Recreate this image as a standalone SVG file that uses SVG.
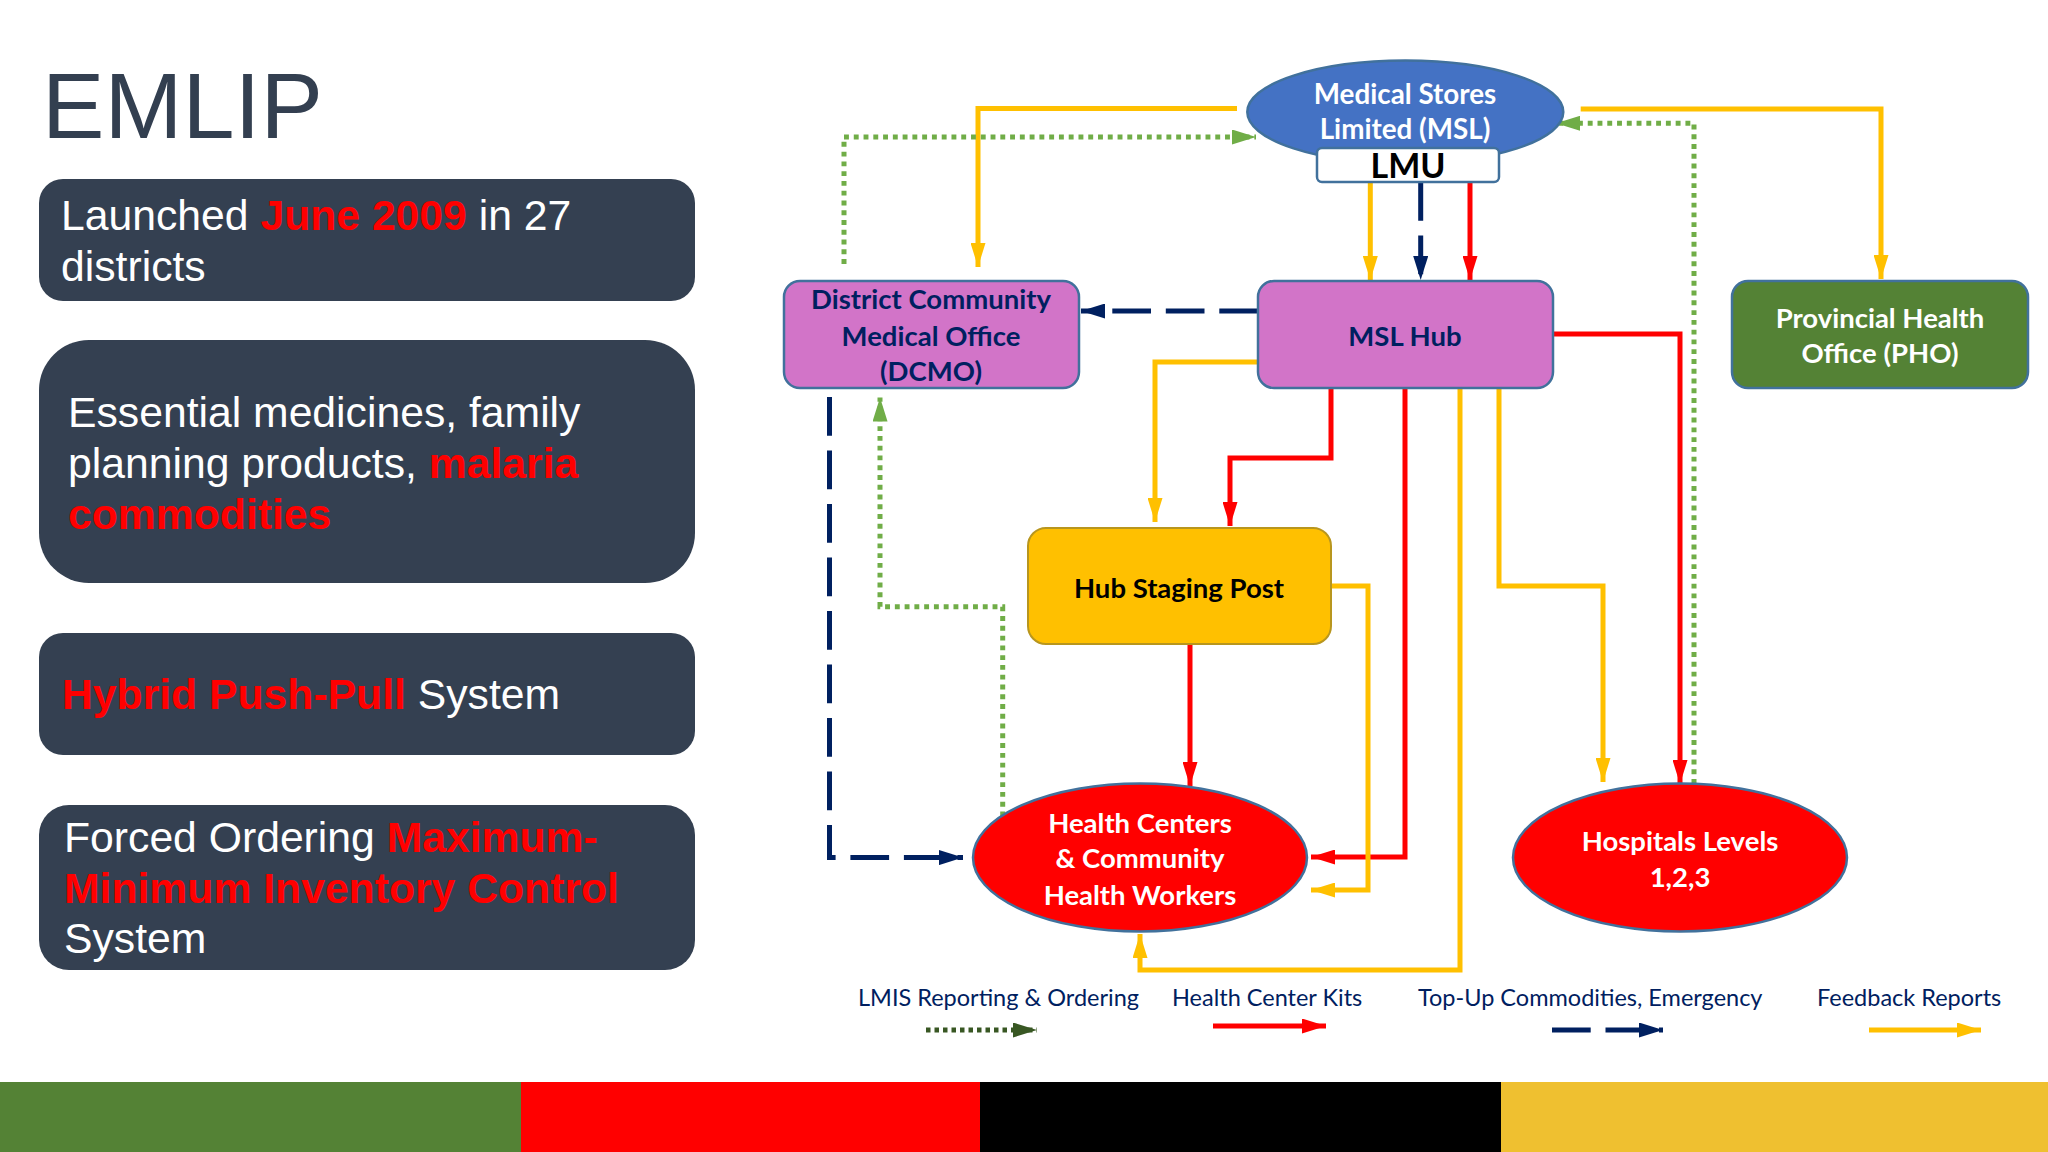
<svg xmlns="http://www.w3.org/2000/svg" width="2048" height="1152" viewBox="0 0 2048 1152">
<style>
.panel{fill:#344051}
.pt{font-family:"Liberation Sans",Arial,sans-serif;font-size:42.7px;fill:#fff}
.hl{fill:#f00;font-weight:bold}
.n{font-family:Lato,"Open Sans",sans-serif;font-weight:bold;font-size:27.5px;text-anchor:middle}
.w{fill:#fff}.b{fill:#002060}.k{fill:#000}
.leg{font-family:Lato,"Open Sans",sans-serif;font-size:23.5px;fill:#002060}
.box{stroke:#41719c;stroke-width:2.5}
.c{fill:none;stroke-width:5}
.y{stroke:#ffc000;marker-end:url(#ay)}
.r{stroke:#f00;marker-end:url(#ar)}
.d{stroke:#002060;stroke-dasharray:38.7 14.8;marker-end:url(#ad)}
.g{stroke:#70ad47;stroke-dasharray:4.9 4.87;marker-end:url(#ag)}
</style>
<defs>
<marker id="ay" viewBox="0 0 24 15" refX="24" refY="7.5" markerUnits="userSpaceOnUse" markerWidth="24" markerHeight="15" orient="auto"><path d="M0 0L24 7.5L0 15Z" fill="#ffc000"/></marker>
<marker id="ar" viewBox="0 0 24 15" refX="24" refY="7.5" markerUnits="userSpaceOnUse" markerWidth="24" markerHeight="15" orient="auto"><path d="M0 0L24 7.5L0 15Z" fill="#f00"/></marker>
<marker id="ad" viewBox="0 0 24 15" refX="24" refY="7.5" markerUnits="userSpaceOnUse" markerWidth="24" markerHeight="15" orient="auto"><path d="M0 0L24 7.5L0 15Z" fill="#002060"/></marker>
<marker id="ag" viewBox="0 0 24 15" refX="24" refY="7.5" markerUnits="userSpaceOnUse" markerWidth="24" markerHeight="15" orient="auto"><path d="M0 0L24 7.5L0 15Z" fill="#70ad47"/></marker>
<marker id="adg" viewBox="0 0 24 15" refX="24" refY="7.5" markerUnits="userSpaceOnUse" markerWidth="24" markerHeight="15" orient="auto"><path d="M0 0L24 7.5L0 15Z" fill="#385723"/></marker>
</defs>
<rect width="2048" height="1152" fill="#fff"/>
<text x="42" y="138" font-family="Liberation Sans,Arial,sans-serif" font-size="93.6" fill="#333f50">EMLIP</text>
<g id="panel1"><rect class="panel" x="39" y="179" width="656" height="122" rx="24"/>
<text class="pt" x="61" y="230">Launched <tspan class="hl">June 2009</tspan> in 27</text>
<text class="pt" x="61" y="281">districts</text></g>
<g id="panel2"><rect class="panel" x="39" y="340" width="656" height="243" rx="50"/>
<text class="pt" x="68" y="427">Essential medicines, family</text>
<text class="pt" x="68" y="478">planning products, <tspan class="hl">malaria</tspan></text>
<text class="pt hl" x="68" y="529">commodities</text></g>
<g id="panel3"><rect class="panel" x="39" y="633" width="656" height="122" rx="24"/>
<text class="pt" x="62" y="709"><tspan class="hl">Hybrid Push-Pull</tspan> System</text></g>
<g id="panel4"><rect class="panel" x="39" y="805" width="656" height="165" rx="30"/>
<text class="pt" x="64" y="852">Forced Ordering <tspan class="hl">Maximum-</tspan></text>
<text class="pt hl" x="64" y="903">Minimum Inventory Control</text>
<text class="pt" x="64" y="953">System</text></g>
<g id="connectors">
<path class="c y" d="M1237 108.5H978V267"/>
<path class="c g" d="M844 264V137H1256"/>
<path class="c y" d="M1370.3 182V280"/>
<path class="c d" d="M1420.7 182V280"/>
<path class="c r" d="M1470 182V280"/>
<path class="c y" d="M1580.7 109H1881V279"/>
<path class="c g" d="M1694 784V123.3H1556"/>
<path class="c d" d="M1258 311H1081"/>
<path class="c y" d="M1258 362H1155V522"/>
<path class="c r" d="M1331 388V458H1230V526"/>
<path class="c r" d="M1405 388V857H1311"/>
<path class="c y" d="M1460 388V970H1140V934"/>
<path class="c y" d="M1499 388V586H1603V782"/>
<path class="c r" d="M1553 334H1680V784"/>
<path class="c y" d="M1331 586H1368V890H1311"/>
<path class="c r" d="M1190 644V786"/>
<path class="c d" d="M829.5 397V857.6H963"/>
<path class="c g" d="M1002.7 816.4V606.7H880V397.5"/>
<path class="c" stroke="#385723" stroke-dasharray="4.5 4" marker-end="url(#adg)" d="M926 1030H1037"/>
<path class="c r" d="M1213 1026H1326"/>
<path class="c d" d="M1552 1030H1663"/>
<path class="c y" d="M1869 1030H1981"/>
</g>
<g id="msl"><ellipse class="box" cx="1405.3" cy="112" rx="158" ry="51.5" fill="#4472c4"/>
<text class="n w" x="1405" y="103.5" style="font-size:27.8px">Medical Stores</text><text class="n w" x="1405" y="138.5" style="font-size:27.8px">Limited (MSL)</text></g>
<g id="lmu"><rect class="box" x="1317" y="148" width="182" height="34" rx="5" fill="#fff"/>
<text class="n k" x="1408" y="177.5" style="font-size:34px">LMU</text></g>
<g id="dcmo"><rect class="box" x="784" y="281" width="295" height="107" rx="16" fill="#d274c8"/>
<text class="n b" x="931" y="308.5">District Community</text><text class="n b" x="931" y="345.5">Medical Office</text><text class="n b" x="931" y="380.5">(DCMO)</text></g>
<g id="hub"><rect class="box" x="1258" y="281" width="295" height="107" rx="16" fill="#d274c8"/>
<text class="n b" x="1405" y="345.5">MSL Hub</text></g>
<g id="pho"><rect class="box" x="1732" y="281" width="296" height="107" rx="16" fill="#548235"/>
<text class="n w" x="1880" y="327.5">Provincial Health</text><text class="n w" x="1880" y="362.5">Office (PHO)</text></g>
<g id="staging"><rect x="1028" y="528" width="303" height="116" rx="18" fill="#ffc000" stroke="#b8961e" stroke-width="2"/>
<text class="n k" x="1179" y="597.5">Hub Staging Post</text></g>
<g id="hc"><ellipse class="box" cx="1140" cy="857.5" rx="167" ry="74" fill="#f00"/>
<text class="n w" x="1140" y="832.5">Health Centers</text><text class="n w" x="1140" y="867.5">&amp; Community</text><text class="n w" x="1140" y="904.5">Health Workers</text></g>
<g id="hosp"><ellipse class="box" cx="1680" cy="857.5" rx="167" ry="74" fill="#f00"/>
<text class="n w" x="1680" y="850.5">Hospitals Levels</text><text class="n w" x="1680" y="886.5">1,2,3</text></g>
<g id="legend">
<text class="leg" x="858" y="1006">LMIS Reporting &amp; Ordering</text>
<text class="leg" x="1172" y="1006">Health Center Kits</text>
<text class="leg" x="1418" y="1006">Top-Up Commodities, Emergency</text>
<text class="leg" x="1817" y="1006">Feedback Reports</text>
</g>
<g id="bar">
<rect x="0" y="1082" width="521" height="70" fill="#548235"/>
<rect x="521" y="1082" width="459" height="70" fill="#f00"/>
<rect x="980" y="1082" width="521" height="70" fill="#000"/>
<rect x="1501" y="1082" width="547" height="70" fill="#efc030"/>
</g>
</svg>
